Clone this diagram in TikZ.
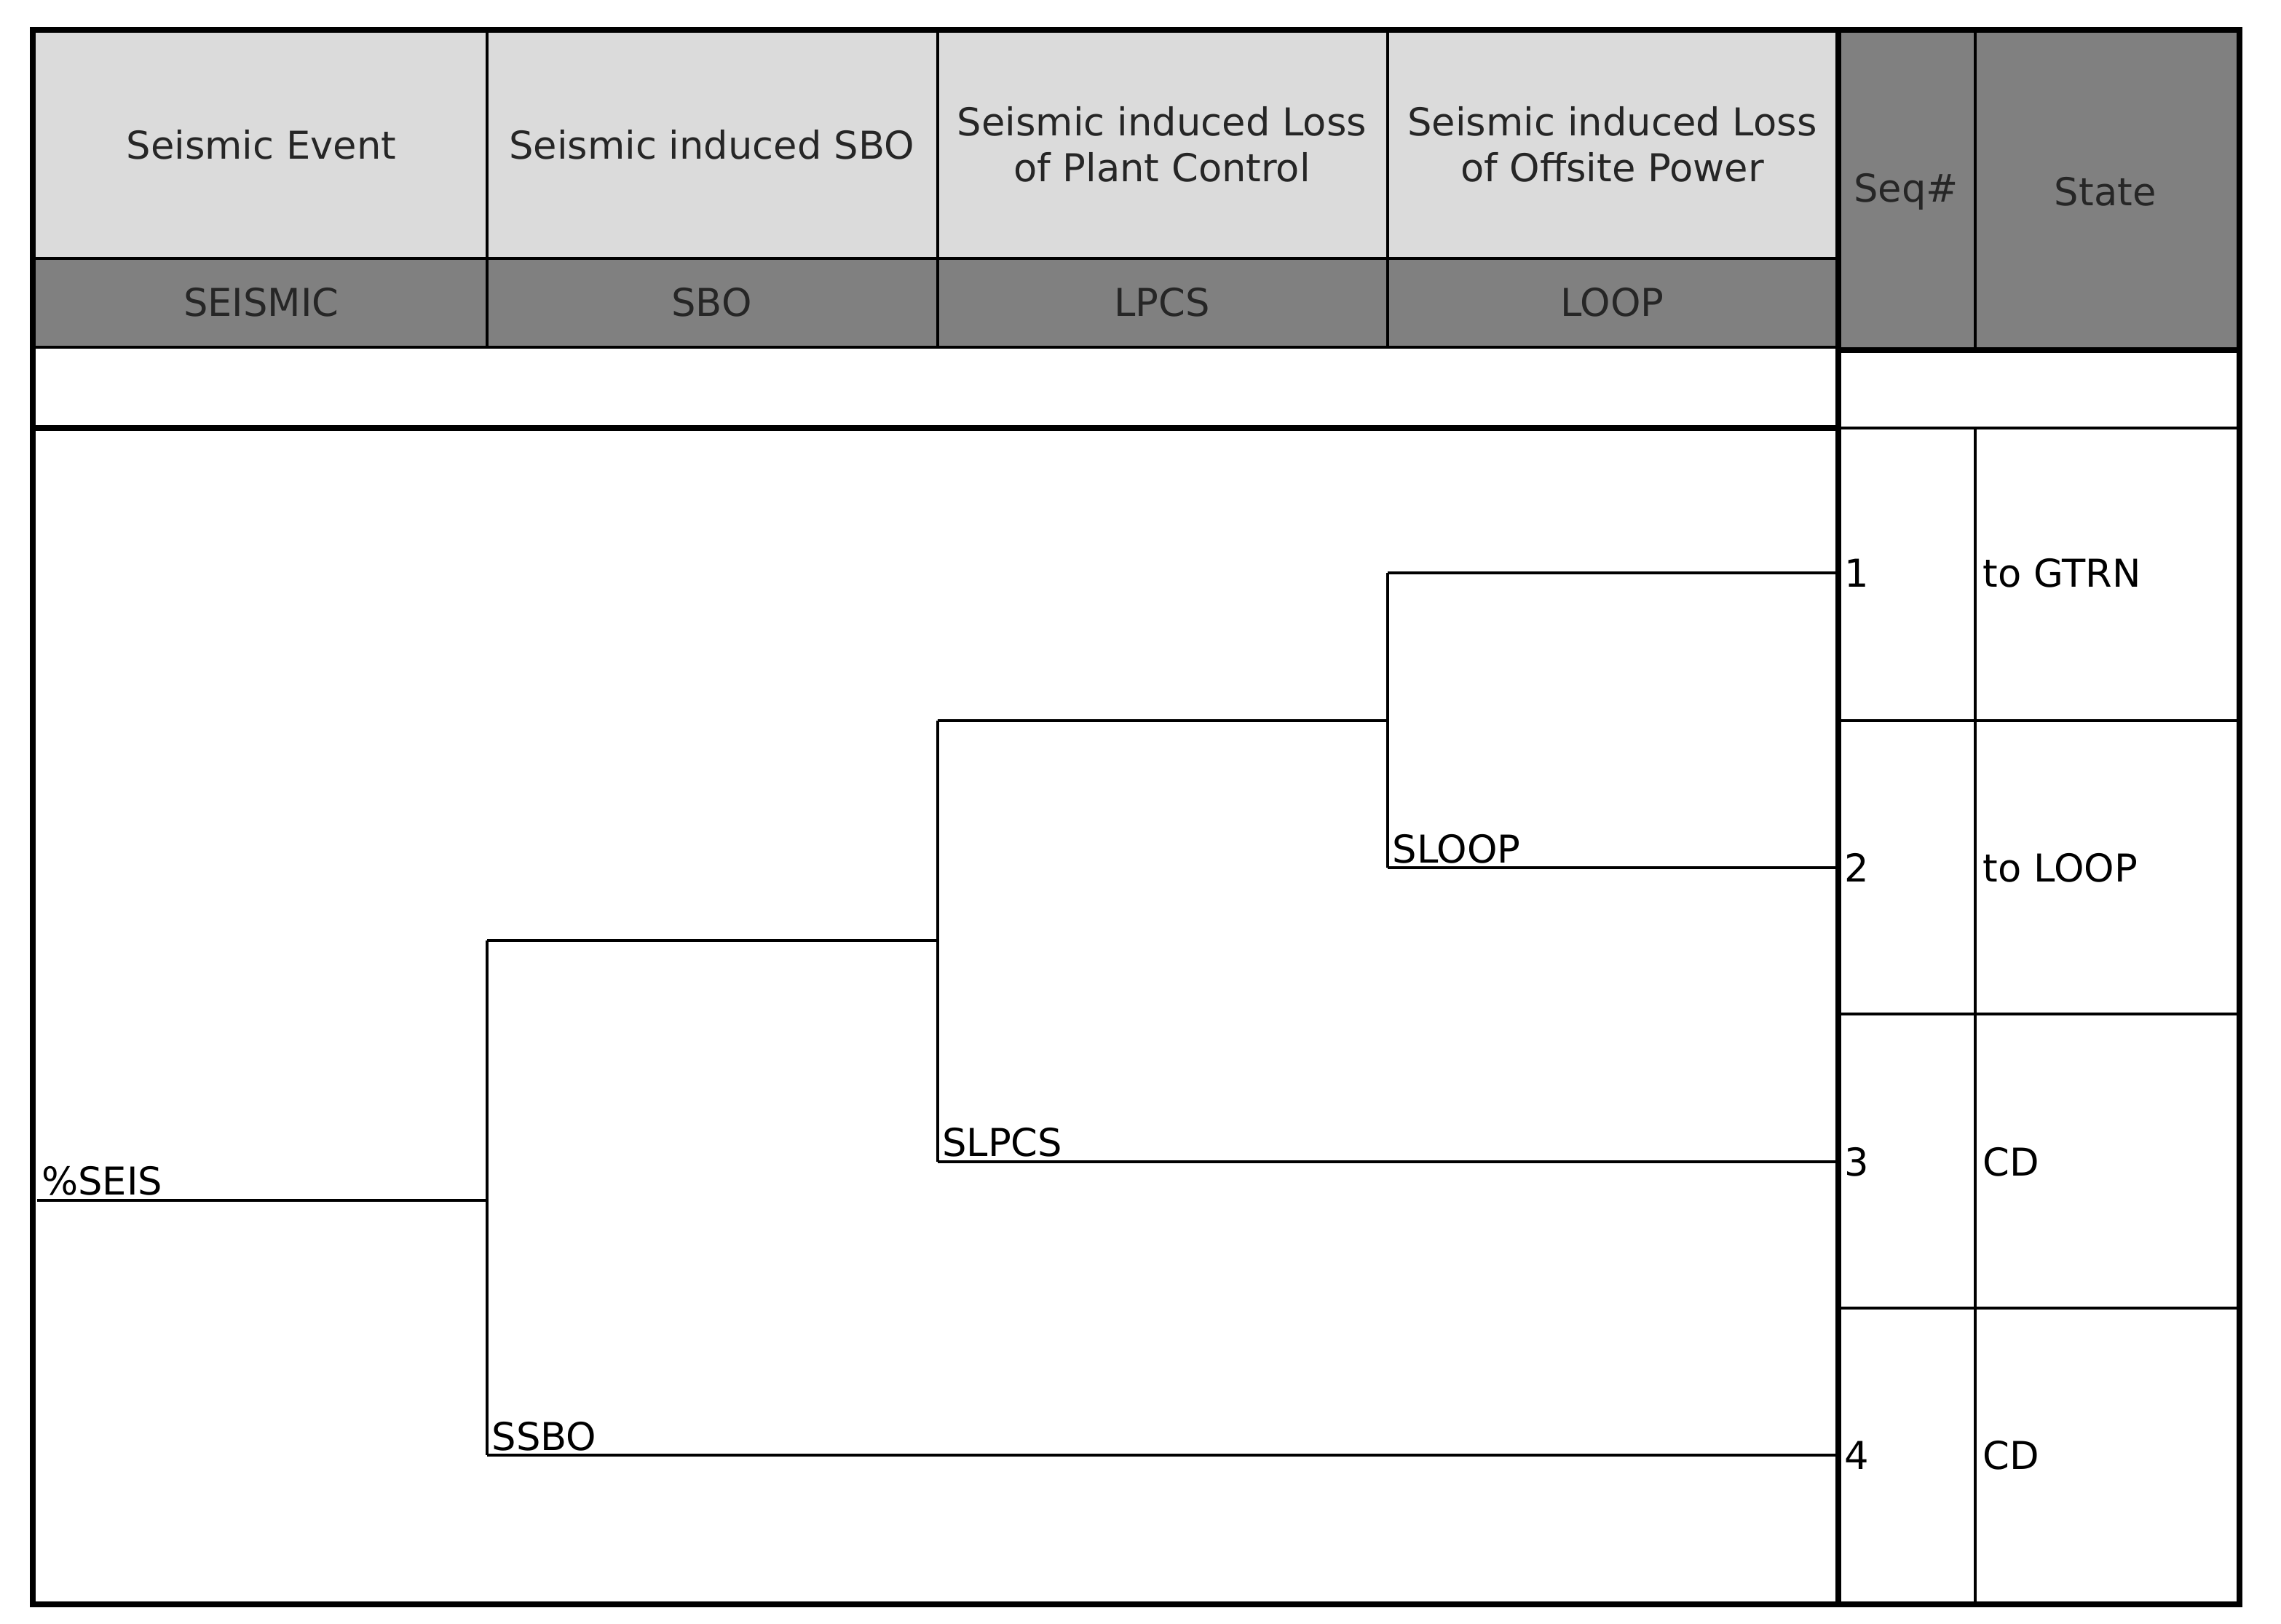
\documentclass[tikz,border=0pt]{standalone}
\usepackage{fontspec}
\setmainfont{DejaVu Sans}
\begin{document}
\begin{tikzpicture}[x=1pt,y=-1pt,
  thin line/.style={line width=2pt},
  thick line/.style={line width=4pt},
  hdr/.style={font=\fontsize{26}{31}\selectfont,align=center,text=black!85},
  lbl/.style={font=\fontsize{26}{31}\selectfont,anchor=south west,inner sep=3pt},
  br/.style={line width=2pt}]
\useasboundingbox (0,0) rectangle (1545,1100);
\fill[black!14] (24,22) rectangle (1245,175);
\fill[black!50] (24,175) rectangle (1245,235);
\fill[black!50] (1245,22) rectangle (1515,237);
% header grid
\draw[thin line] (24,175) -- (1245,175) (24,235) -- (1245,235);
\foreach \x in {330,635,940} \draw[thin line] (\x,22) -- (\x,235);
\draw[thin line] (1338,22) -- (1338,237);
\draw[thick line] (1245,237) -- (1515,237);
\draw[thick line] (22,290) -- (1245,290);
\draw[thin line] (1245,290) -- (1515,290);
\foreach \y in {488,687,886} \draw[thin line] (1245,\y) -- (1515,\y);
\draw[thin line] (1338,290) -- (1338,1086);
\draw[thick line] (1245,22) -- (1245,1086);
\draw[thick line] (22,20) rectangle (1517,1087);
% header texts
\node[hdr] (h1) at (177,98) {Seismic Event};
\node[hdr] (h2) at (482,98) {Seismic induced SBO};
\node[hdr] (h3) at (787,98) {Seismic induced Loss\\of Plant Control};
\node[hdr] (h4) at (1092,98) {Seismic induced Loss\\of Offsite Power};
\node[hdr] (c1) at (177,205) {SEISMIC};
\node[hdr] (c2) at (482,205) {SBO};
\node[hdr] (c3) at (787,205) {LPCS};
\node[hdr] (c4) at (1092,205) {LOOP};
\node[hdr] (sq) at (1291,130) {Seq\#};
\node[hdr] (st) at (1426,130) {State};
% tree
\coordinate (a0) at (25,813); \coordinate (a1) at (330,813);
\coordinate (b0) at (330,637); \coordinate (b1) at (635,637);
\coordinate (s0) at (330,986); \coordinate (s1) at (1245,986);
\coordinate (c0) at (635,488); \coordinate (cc) at (940,488);
\coordinate (l0) at (635,787); \coordinate (l1) at (1245,787);
\coordinate (d0) at (940,388); \coordinate (d1) at (1245,388);
\coordinate (e0) at (940,588); \coordinate (e1) at (1245,588);
\draw[br] (a0) -- (a1);
\draw[br] (b0) -- (s0);
\draw[br] (b0) -- (b1);
\draw[br] (s0) -- (s1);
\draw[br] (c0) -- (l0);
\draw[br] (c0) -- (cc);
\draw[br] (l0) -- (l1);
\draw[br] (d0) -- (e0);
\draw[br] (d0) -- (d1);
\draw[br] (e0) -- (e1);
\node[lbl] (t1) at (a0) {\%SEIS};
\node[lbl] (t2) at (s0) {SSBO};
\node[lbl] (t3) at (l0) {SLPCS};
\node[lbl] (t4) at (e0) {SLOOP};
\foreach \n/\y/\s in {1/388/to GTRN,2/588/to LOOP,3/787/CD,4/986/CD}{
  \node[font=\fontsize{26}{31}\selectfont,anchor=west,inner sep=2pt] (n\n) at (1247,\y) {\n};
  \node[font=\fontsize{26}{31}\selectfont,anchor=west,inner sep=2pt] (m\n) at (1341,\y) {\s};
}
\end{tikzpicture}
\end{document}
